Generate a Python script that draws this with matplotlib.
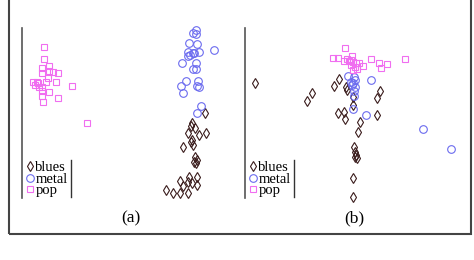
import matplotlib
matplotlib.use('agg')
import matplotlib.pyplot as plt
from matplotlib.patches import Rectangle
from matplotlib.lines import Line2D

plt.rcParams['font.family'] = ['Liberation Serif', 'DejaVu Serif']

# panel (a) embedding coordinates
a_pop_x = [22, 22, 20, 27, 20, 27, 31, 36, 26, 11, 15, 16, 24, 34, 13, 17, 20, 50, 20, 27, 20, 36, 21, 65]
a_pop_y = [151, 139, 130, 132, 125, 127, 126, 125, 120, 116, 116, 115, 116, 116, 113, 111, 111, 112, 107, 106, 102, 100, 96, 75]
a_metal_x = [174, 171, 174, 167, 175, 166, 171, 177, 192, 168, 172, 166, 160, 174, 171, 174, 164, 176, 159, 175, 177, 161, 179, 175]
a_metal_y = [168, 165, 164, 155, 154, 146, 145, 146, 148, 143, 145, 142, 135, 135, 129, 129, 117, 117, 112, 112, 111, 105, 92, 85]
a_blues_x = [183, 170, 169, 173, 166, 177, 184, 170, 169, 171, 161, 173, 175, 172, 174, 167, 175, 158, 166, 170, 175, 161, 144, 151, 158, 166]
a_blues_y = [85, 75, 72, 70, 65, 63, 65, 58, 56, 53, 51, 41, 38, 36, 35, 21, 21, 17, 16, 15, 13, 12, 8, 5, 5, 5]

# panel (b) embedding coordinates
b_pop_x = [100, 88, 93, 107, 99, 102, 104, 106, 108, 111, 114, 106, 110, 118, 126, 134, 142, 136, 160, 112, 108]
b_pop_y = [150, 140, 140, 142, 137, 139, 137, 138, 136, 135, 135, 133, 131, 132, 139, 135, 134, 130, 139, 129, 128]
b_metal_x = [103, 109, 110, 106, 108, 107, 110, 109, 109, 126, 108, 121, 178, 206]
b_metal_y = [122, 121, 118, 116, 115, 113, 111, 107, 102, 118, 89, 83, 69, 49]
b_blues_x = [10, 94, 89, 101, 102, 67, 62, 135, 132, 108, 108, 93, 99, 100, 132, 115, 113, 109, 110, 111, 112, 110, 108, 108]
b_blues_y = [115, 119, 112, 111, 108, 105, 97, 107, 100, 93, 101, 85, 86, 79, 83, 76, 66, 51, 46, 43, 40, 41, 20, 1]

genres = ['blues', 'metal', 'pop']
markers = {'blues': 'd', 'metal': 'o', 'pop': 's'}
sizes = {'blues': 5.6, 'metal': 5.5, 'pop': 4.8}
colors = {'blues': '#3a1c1c', 'metal': '#6b6bef', 'pop': '#f06ef0'}

W, H = 474, 260
fig = plt.figure(figsize=(W / 100, H / 100), dpi=100)

# outer frame (top edge runs off the image)
fig.add_artist(Rectangle((9 / W, 1 - 234 / H), 462 / W, 1.0, transform=fig.transFigure,
                         fill=False, ec='#444444', lw=1.5))

panels = [
    ('(a)', 22, 213, 131, {'blues': (a_blues_x, a_blues_y), 'metal': (a_metal_x, a_metal_y), 'pop': (a_pop_x, a_pop_y)}),
    ('(b)', 245, 220, 354, {'blues': (b_blues_x, b_blues_y), 'metal': (b_metal_x, b_metal_y), 'pop': (b_pop_x, b_pop_y)}),
]

for label, left, width, lab_x, data in panels:
    ax = fig.add_axes([left / W, 1 - 198 / H, width / W, 170 / H])
    for g in genres:
        x, y = data[g]
        ax.plot(x, y, ls='none', marker=markers[g], ms=sizes[g], mfc='none',
                mec=colors[g], mew=0.8, label=g, clip_on=False)
    ax.set_xlim(0, width)
    ax.set_ylim(0, 170)
    for s in ['top', 'right', 'bottom']:
        ax.spines[s].set_visible(False)
    ax.spines['left'].set_color('#555555')
    ax.spines['left'].set_linewidth(1.2)
    ax.set_xticks([])
    ax.set_yticks([])
    ax.patch.set_alpha(0)

    leg = ax.legend(loc='lower left', bbox_to_anchor=(4 / width, 0.003), borderaxespad=0, frameon=False,
                    handlelength=0.6, handletextpad=0.05, labelspacing=-0.1, borderpad=0.0,
                    fontsize=10.5)
    # vertical bar on right of legend
    ax.add_line(Line2D([49 / width, 49 / width], [1 / 170, 38 / 170], transform=ax.transAxes,
                       color='#333333', lw=1.0, clip_on=False))

    fig.text(lab_x / W, 1 - 218 / H, label, ha='center', va='center', fontsize=12.5)

fig.savefig('out.png', dpi=100)
